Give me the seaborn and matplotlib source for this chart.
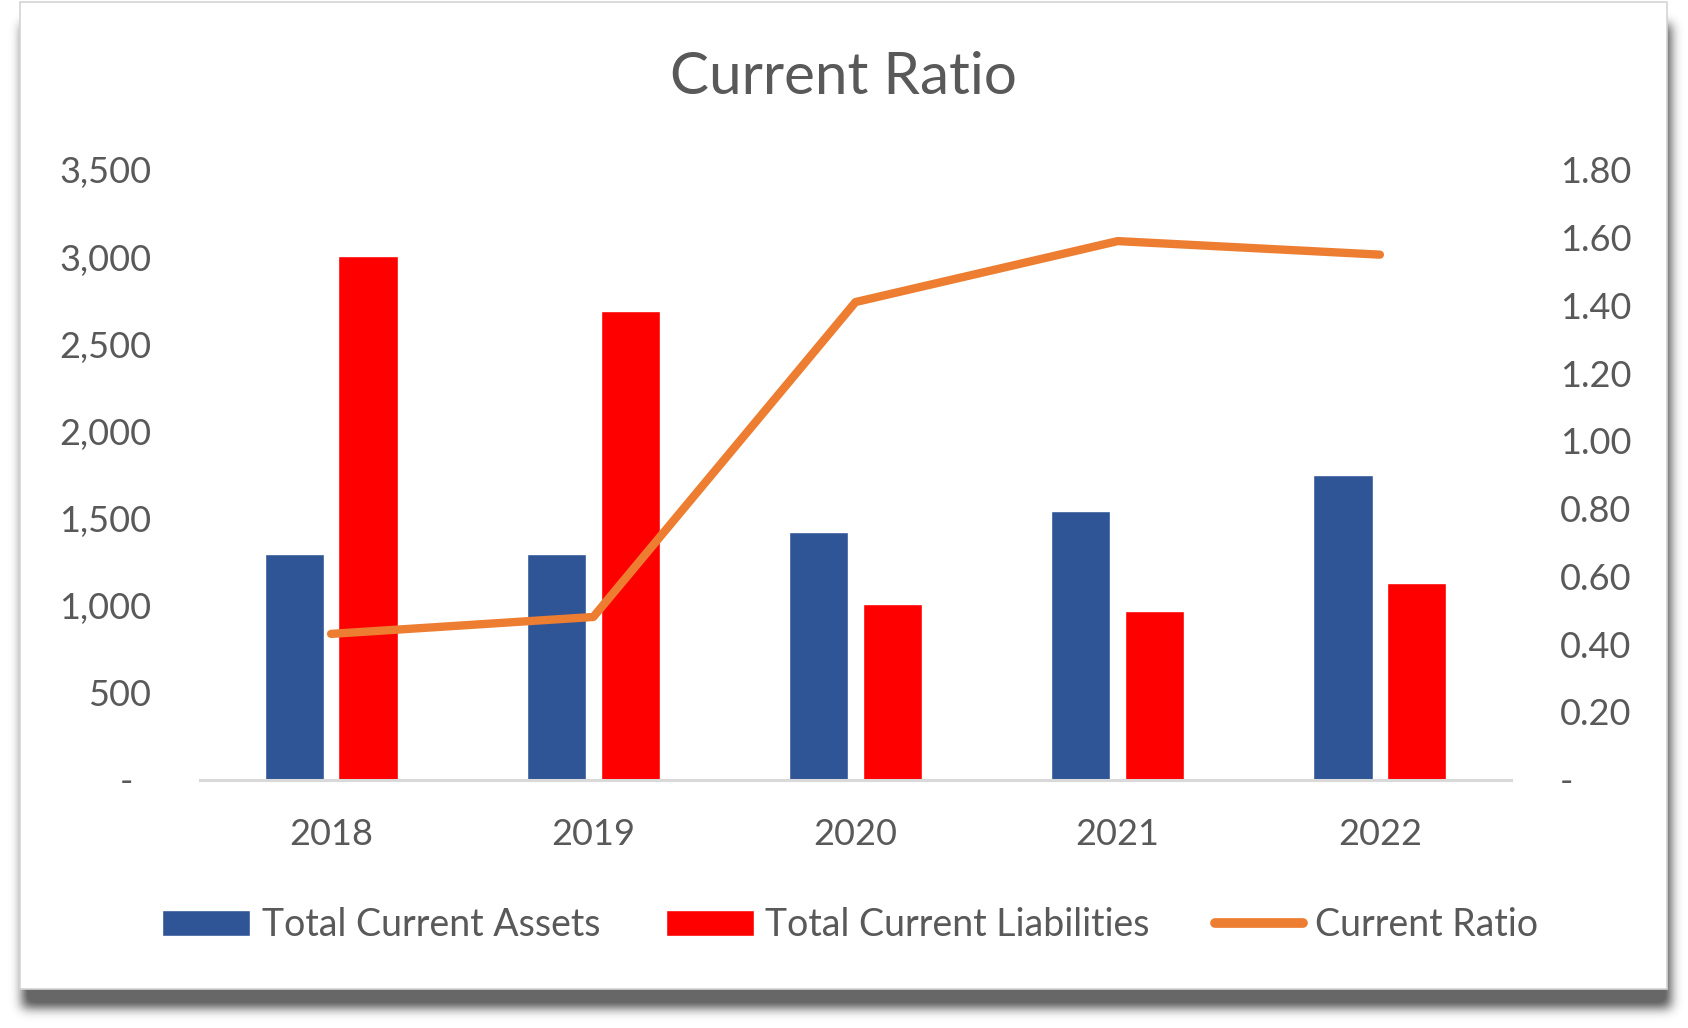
import numpy as np
import pandas as pd
import matplotlib.pyplot as plt
import seaborn as sns
from matplotlib.patches import Rectangle

years = ["2018", "2019", "2020", "2021", "2022"]
total_assets = [1295, 1295, 1421, 1542, 1749]
total_liabilities = [3005, 2690, 1008, 968, 1128]
current_ratio = [0.43, 0.48, 1.41, 1.59, 1.55]

left_ticks = [0, 500, 1000, 1500, 2000, 2500, 3000, 3500]
left_labels = ["-  ", "500", "1,000", "1,500", "2,000", "2,500", "3,000", "3,500"]
right_ticks = [0, 0.2, 0.4, 0.6, 0.8, 1.0, 1.2, 1.4, 1.6, 1.8]
right_labels = ["-", "0.20", "0.40", "0.60", "0.80", "1.00", "1.20", "1.40", "1.60", "1.80"]

BLUE = "#2F5597"
RED = "#FF0000"
ORANGE = "#ED7D31"
TEXT = "#595959"

sns.set_theme(style="white")
plt.rcParams["font.family"] = ["Lato", "DejaVu Sans"]

W, H = 1688, 1028
fig = plt.figure(figsize=(W / 100, H / 100), dpi=100)
fig.patch.set_facecolor("white")

# soft drop shadow behind the card
mask = np.zeros((H, W))
mask[24:1008, 22:1671] = 1.0
k = np.exp(-0.5 * (np.arange(-18, 19) / 5.5) ** 2)
k /= k.sum()
mask = np.apply_along_axis(lambda r: np.convolve(r, k, mode="same"), 0, mask)
mask = np.apply_along_axis(lambda r: np.convolve(r, k, mode="same"), 1, mask)
shadow = np.zeros((H, W, 4))
shadow[..., :3] = 0.3
shadow[..., 3] = np.clip(mask * 1.0, 0, 0.85)
fig.figimage(shadow, xo=0, yo=0, origin="upper", zorder=-2)

card = Rectangle((20 / W, 1 - 989 / H), (1667 - 20) / W, (989 - 2) / H,
                 transform=fig.transFigure, facecolor="white",
                 edgecolor="#d4d4d4", linewidth=1.2, zorder=-1)
fig.patches.append(card)

ax = fig.add_axes([200 / W, 1 - 779.5 / H, (1511 - 200) / W, (779.5 - 170) / H])
ax.set_facecolor("none")

bar_df = pd.DataFrame({
    "Year": years * 2,
    "Value": total_assets + total_liabilities,
    "Series": ["Total Current Assets"] * len(years) + ["Total Current Liabilities"] * len(years),
})
sns.barplot(data=bar_df, x="Year", y="Value", hue="Series", palette=[BLUE, RED],
            width=0.564, gap=0.2, saturation=1, ax=ax)

ax2 = ax.twinx()
ratio_df = pd.DataFrame({"pos": np.arange(len(years)), "ratio": current_ratio})
sns.lineplot(data=ratio_df, x="pos", y="ratio", color=ORANGE, linewidth=6,
             solid_capstyle="round", label="Current Ratio", ax=ax2)

ax.set_xlim(-0.5, len(years) - 0.5)
ax.set_ylim(0, 3500)
ax2.set_ylim(0, 1.8)

ax.set_yticks(left_ticks)
ax.set_yticklabels(left_labels)
ax2.set_yticks(right_ticks)
ax2.set_yticklabels(right_labels)

ax.set_xlabel("")
ax.set_ylabel("")
ax2.set_xlabel("")
ax2.set_ylabel("")

for a in (ax, ax2):
    for s in a.spines.values():
        s.set_visible(False)
    a.grid(False)
ax.spines["bottom"].set_visible(True)
ax.spines["bottom"].set_color("#d9d9d9")
ax.spines["bottom"].set_linewidth(2.2)

ax.tick_params(axis="y", length=0, pad=35, labelsize=26, labelcolor=TEXT)
ax.tick_params(axis="x", length=0, pad=28, labelsize=26, labelcolor=TEXT)
ax2.tick_params(axis="y", length=0, pad=35, labelsize=26, labelcolor=TEXT)

fig.text(843 / W, 1 - 77 / H, "Current Ratio", ha="center", va="center",
         fontsize=42, color=TEXT)

h1, l1 = ax.get_legend_handles_labels()
h2, l2 = ax2.get_legend_handles_labels()
if ax.get_legend() is not None:
    ax.get_legend().remove()
if ax2.get_legend() is not None:
    ax2.get_legend().remove()
leg = fig.legend(h1 + h2, l1 + l2, loc="center", bbox_to_anchor=(850 / W, 1 - 925 / H),
                 ncol=3, frameon=False, fontsize=27, handlelength=2.35,
                 handleheight=0.7, handletextpad=0.3, columnspacing=1.75)
for t in leg.get_texts():
    t.set_color(TEXT)
for ln in leg.get_lines():
    ln.set_linewidth(7)
    ln.set_solid_capstyle("round")

fig.savefig("out.png", dpi=100, facecolor="white")
